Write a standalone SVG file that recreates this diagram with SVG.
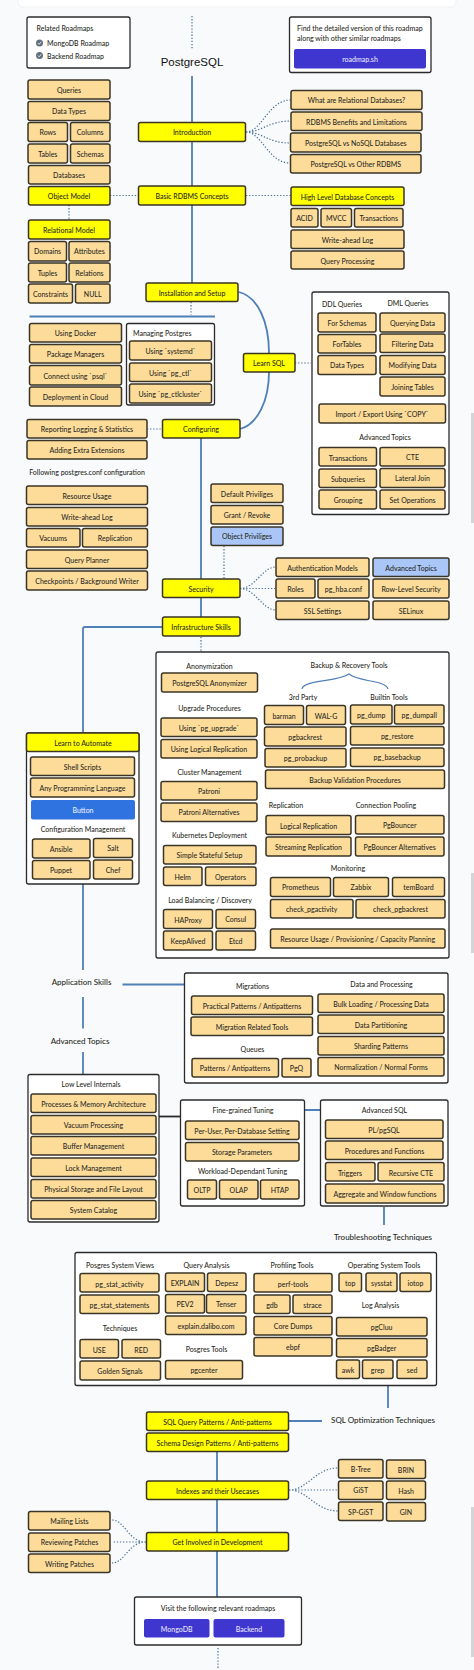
<svg xmlns="http://www.w3.org/2000/svg" width="474" height="1670" viewBox="0 0 474 1670">
<style>
text{font-family:"Lato","Noto Sans",sans-serif;font-size:7px;fill:#2a2a24;text-anchor:middle;dominant-baseline:central;font-weight:500}
.n rect{fill:#fddc9a;stroke:#3a3526;stroke-width:1.5}
.y rect{fill:#ffff00;stroke:#3a3526;stroke-width:1.5}
.b rect{fill:#a9c6f7;stroke:#3a3526;stroke-width:1.5}
.p rect{fill:#3f36cf}
.p text{fill:#e6e6fa}
.box{fill:#fff;stroke:#2b2b2b;stroke-width:1.3}
.l{text-anchor:start}
.big{font-size:8px}
.h{font-family:"Liberation Sans",sans-serif;font-size:11.5px;fill:#111}
#connectors path{fill:none;stroke:#4f7fb8;stroke-width:1.8}
#connectors path.d{stroke:#47709a;stroke-width:1.2;stroke-dasharray:1.3 1.8}
#connectors path.k{stroke:#2b2b2b}
</style>
<rect width="474" height="1670" fill="#f8fafc"/>
<rect x="18" y="-12" width="438" height="19" rx="5" fill="#fff" stroke="#ebedf0" stroke-width="0.8"/>
<rect x="471" y="413" width="3" height="110" fill="#d5d5d8"/>
<rect x="471" y="873" width="3" height="80" fill="#d5d5d8"/>
<rect x="471" y="1507" width="3" height="150" fill="#d5d5d8"/>
<g id="connectors">
<path class="d" d="M192 16V50"/>
<path d="M192 76V283M29.500 316.500H215"/>
<path class="d" d="M246 132C262 132 268 100 291 100M246 132C262 132 268 121 291 121M246 132C262 132 268 143 290 143M246 132C262 132 268 163 290 163M110 195.500H138M246 195.500H291M69 205V220M191 302V315"/>
<path d="M239 292C258 297 269 322 269 353V372C269 400 258 424 240 429"/>
<path class="d" d="M295 363H311M147 429H162M224 546V579M240 588.500C256 588 262 567 276 567M240 588.500H276M240 588.500C256 589 262 610 276 610M201 637V652"/>
<path d="M201 438V579M201 597V617M162 627H85Q83 627 83 629V733M83 884V970M83 997V1028.500M83 1052V1074M122.500 984.500H184M305 1110H320M384 1207V1225M388 1386V1408M289 1421H322M217 1452V1481M217 1500V1532M217 1551V1597"/>
<path class="k" d="M159 1116.500H180"/>
<path class="d" d="M289 1490C308 1490 315 1468 338 1468M289 1490H338M289 1490C308 1490 315 1511 338 1511M146 1542C128 1542 125 1520 112 1520M146 1542H112M146 1542C128 1542 125 1563 112 1563M218 1648V1668"/>
</g>
<g id="related-roadmaps">
<rect class="box" x="27" y="17" width="103" height="51" rx="2"/>
<text class="l" x="36.500" y="27.500">Related Roadmaps</text>
<circle cx="39.500" cy="43" r="3.500" fill="#62707c"/><path d="M37.800 43l1.300 1.300 2.200-2.500" fill="none" stroke="#fff" stroke-width="0.8"/>
<text class="l" x="47" y="43">MongoDB Roadmap</text>
<circle cx="39.500" cy="55.500" r="3.500" fill="#62707c"/><path d="M37.800 55.500l1.300 1.300 2.200-2.500" fill="none" stroke="#fff" stroke-width="0.8"/>
<text class="l" x="47" y="55.500">Backend Roadmap</text>
</g>
<g id="detail-box">
<rect class="box" x="289.500" y="17" width="141.500" height="55.500" rx="2"/>
<text class="l" x="297" y="27.500">Find the detailed version of this roadmap</text>
<text class="l" x="297" y="38">along with other similar roadmaps</text>
</g>
<g id="roadmap-sh" class="p"><rect x="294" y="49" width="132" height="19.500" rx="2"/><text x="360" y="59">roadmap.sh</text></g>
<g id="title"><text class="h" x="192" y="62">PostgreSQL</text></g>
<g id="n1" class="n"><rect x="28" y="80" width="82" height="19" rx="2"/><text x="69" y="90">Queries</text></g>
<g id="n2" class="n"><rect x="28" y="101.500" width="82" height="19" rx="2"/><text x="69" y="111">Data Types</text></g>
<g id="n3" class="n"><rect x="28" y="122.500" width="39.500" height="19" rx="2"/><text x="47.800" y="132">Rows</text></g>
<g id="n4" class="n"><rect x="70.500" y="122.500" width="39.500" height="19" rx="2"/><text x="90.200" y="132">Columns</text></g>
<g id="n5" class="n"><rect x="28" y="144" width="39.500" height="19" rx="2"/><text x="47.800" y="153.500">Tables</text></g>
<g id="n6" class="n"><rect x="70.500" y="144" width="39.500" height="19" rx="2"/><text x="90.200" y="153.500">Schemas</text></g>
<g id="n7" class="n"><rect x="28.500" y="165.500" width="81.500" height="18.500" rx="2"/><text x="69" y="175">Databases</text></g>
<g id="n8" class="y"><rect x="28.500" y="186.500" width="81.500" height="18.500" rx="2"/><text x="69" y="196">Object Model</text></g>
<g id="n9" class="y"><rect x="28.500" y="220" width="81.500" height="19" rx="2"/><text x="69" y="229.500">Relational Model</text></g>
<g id="n10" class="n"><rect x="28.500" y="241.500" width="38" height="19.500" rx="2"/><text x="47.500" y="251">Domains</text></g>
<g id="n11" class="n"><rect x="69" y="241.500" width="41" height="19.500" rx="2"/><text x="89.500" y="251">Attributes</text></g>
<g id="n12" class="n"><rect x="28.500" y="263" width="38" height="19" rx="2"/><text x="47.500" y="272.500">Tuples</text></g>
<g id="n13" class="n"><rect x="69" y="263" width="41" height="19" rx="2"/><text x="89.500" y="272.500">Relations</text></g>
<g id="n14" class="n"><rect x="28.500" y="284" width="44" height="19" rx="2"/><text x="50.500" y="293.500">Constraints</text></g>
<g id="n15" class="n"><rect x="75.500" y="284" width="34.500" height="19" rx="2"/><text x="92.700" y="293.500">NULL</text></g>
<g id="n16" class="y"><rect x="138.500" y="122.500" width="107" height="19" rx="2"/><text x="192" y="132">Introduction</text></g>
<g id="n17" class="y"><rect x="138.500" y="186" width="107" height="19" rx="2"/><text x="192" y="195.500">Basic RDBMS Concepts</text></g>
<g id="n18" class="y"><rect x="146" y="283" width="92" height="18.500" rx="2"/><text x="192" y="292.500">Installation and Setup</text></g>
<g id="n19" class="n"><rect x="291" y="90.500" width="131" height="19" rx="2"/><text x="356.500" y="100">What are Relational Databases?</text></g>
<g id="n20" class="n"><rect x="291" y="112" width="131" height="18.500" rx="2"/><text x="356.500" y="121.500">RDBMS Benefits and Limitations</text></g>
<g id="n21" class="n"><rect x="290.500" y="133" width="130.500" height="19" rx="2"/><text x="355.800" y="142.500">PostgreSQL vs NoSQL Databases</text></g>
<g id="n22" class="n"><rect x="290.500" y="154.500" width="130.500" height="18.500" rx="2"/><text x="355.800" y="164">PostgreSQL vs Other RDBMS</text></g>
<g id="n23" class="y"><rect x="291" y="187" width="113" height="18.500" rx="2"/><text x="347.500" y="196.500">High Level Database Concepts</text></g>
<g id="n24" class="n"><rect x="291" y="208.500" width="27" height="18.500" rx="2"/><text x="304.500" y="218">ACID</text></g>
<g id="n25" class="n"><rect x="321" y="208.500" width="30.500" height="18.500" rx="2"/><text x="336.200" y="218">MVCC</text></g>
<g id="n26" class="n"><rect x="354.500" y="208.500" width="48.500" height="18.500" rx="2"/><text x="378.700" y="218">Transactions</text></g>
<g id="n27" class="n"><rect x="291" y="230" width="113" height="18.500" rx="2"/><text x="347.500" y="239.500">Write-ahead Log</text></g>
<g id="n28" class="n"><rect x="291" y="251" width="113" height="18" rx="2"/><text x="347.500" y="260.500">Query Processing</text></g>
<g id="n29" class="n"><rect x="29.500" y="323.500" width="92" height="18.500" rx="2"/><text x="75.500" y="333">Using Docker</text></g>
<g id="n30" class="n"><rect x="29.500" y="344.500" width="92" height="18.500" rx="2"/><text x="75.500" y="354">Package Managers</text></g>
<g id="n31" class="n"><rect x="29.500" y="365.500" width="92" height="19.500" rx="2"/><text x="75.500" y="375.500">Connect using `psql`</text></g>
<g id="n32" class="n"><rect x="29.500" y="387" width="92" height="19" rx="2"/><text x="75.500" y="396.500">Deployment in Cloud</text></g>
<g id="managing"><rect class="box" x="126.500" y="323.500" width="88" height="81.500" rx="2"/><text class="l" x="133" y="332.500">Managing Postgres</text></g>
<g id="n33" class="n"><rect x="129.500" y="341" width="82" height="19" rx="2"/><text x="170.500" y="350.500">Using `systemd`</text></g>
<g id="n34" class="n"><rect x="129.500" y="363" width="82" height="18.500" rx="2"/><text x="170.500" y="372.500">Using `pg_ctl`</text></g>
<g id="n35" class="n"><rect x="129.500" y="384" width="82" height="19" rx="2"/><text x="170.500" y="393.500">Using `pg_ctlcluster`</text></g>
<g id="n36" class="y"><rect x="243.500" y="353.500" width="51.500" height="18.500" rx="2"/><text x="269" y="363">Learn SQL</text></g>
<g id="sql-box"><rect class="box" x="312" y="292" width="137" height="222.500" rx="2"/>
<text x="342" y="303.500">DDL Queries</text><text x="408" y="303">DML Queries</text><text x="385" y="437">Advanced Topics</text></g>
<g id="n37" class="n"><rect x="318" y="313" width="58" height="19" rx="2"/><text x="347" y="322.500">For Schemas</text></g>
<g id="n38" class="n"><rect x="318" y="334.500" width="58" height="18.500" rx="2"/><text x="347" y="344">ForTables</text></g>
<g id="n39" class="n"><rect x="318" y="355.500" width="58" height="19" rx="2"/><text x="347" y="365">Data Types</text></g>
<g id="n40" class="n"><rect x="380" y="313" width="65" height="19" rx="2"/><text x="412.500" y="322.500">Querying Data</text></g>
<g id="n41" class="n"><rect x="380" y="334" width="65" height="18.500" rx="2"/><text x="412.500" y="343.500">Filtering Data</text></g>
<g id="n42" class="n"><rect x="380" y="355.500" width="65" height="19" rx="2"/><text x="412.500" y="365">Modifying Data</text></g>
<g id="n43" class="n"><rect x="380" y="377" width="65" height="19" rx="2"/><text x="412.500" y="386.500">Joining Tables</text></g>
<g id="n44" class="n"><rect x="319" y="404" width="126.500" height="19" rx="2"/><text x="382" y="413.500">Import / Export Using `COPY`</text></g>
<g id="n45" class="n"><rect x="319" y="447.500" width="57.500" height="18.500" rx="2"/><text x="348" y="457.500">Transactions</text></g>
<g id="n46" class="n"><rect x="319" y="469" width="57.500" height="18.500" rx="2"/><text x="348" y="478.500">Subqueries</text></g>
<g id="n47" class="n"><rect x="319" y="490" width="57.500" height="19" rx="2"/><text x="348" y="499.500">Grouping</text></g>
<g id="n48" class="n"><rect x="380" y="447.500" width="65" height="18.500" rx="2"/><text x="412.500" y="457">CTE</text></g>
<g id="n49" class="n"><rect x="380" y="468.500" width="65" height="19" rx="2"/><text x="412.500" y="478">Lateral Join</text></g>
<g id="n50" class="n"><rect x="380" y="490" width="65" height="19" rx="2"/><text x="412.500" y="499.500">Set Operations</text></g>
<g id="n51" class="y"><rect x="162.500" y="419.500" width="77.500" height="18.500" rx="2"/><text x="201" y="429">Configuring</text></g>
<g id="n52" class="n"><rect x="27" y="419.500" width="120" height="18.500" rx="2"/><text x="87" y="429">Reporting Logging &amp; Statistics</text></g>
<g id="n53" class="n"><rect x="27" y="440.500" width="120" height="18.500" rx="2"/><text x="87" y="450">Adding Extra Extensions</text></g>
<g id="conf-label"><text x="87" y="471.500">Following postgres.conf configuration</text></g>
<g id="n54" class="n"><rect x="26.500" y="486" width="121" height="18.500" rx="2"/><text x="87" y="495.500">Resource Usage</text></g>
<g id="n55" class="n"><rect x="26.500" y="507.500" width="121" height="18.500" rx="2"/><text x="87" y="517">Write-ahead Log</text></g>
<g id="n56" class="n"><rect x="26.500" y="528.500" width="53.500" height="18.500" rx="2"/><text x="53.200" y="538">Vacuums</text></g>
<g id="n57" class="n"><rect x="82.500" y="528.500" width="65" height="18.500" rx="2"/><text x="115" y="538">Replication</text></g>
<g id="n58" class="n"><rect x="26.500" y="550" width="121" height="18.500" rx="2"/><text x="87" y="559.500">Query Planner</text></g>
<g id="n59" class="n"><rect x="26.500" y="571" width="121" height="19" rx="2"/><text x="87" y="580.500">Checkpoints / Background Writer</text></g>
<g id="n60" class="n"><rect x="211" y="484" width="72" height="18.500" rx="2"/><text x="247" y="493.500">Default Priviliges</text></g>
<g id="n61" class="n"><rect x="211" y="505.500" width="72" height="18.500" rx="2"/><text x="247" y="515">Grant / Revoke</text></g>
<g id="n62" class="b"><rect x="211" y="527" width="72" height="18.500" rx="2"/><text x="247" y="536">Object Priviliges</text></g>
<g id="n63" class="y"><rect x="162.500" y="579" width="77.500" height="18.500" rx="2"/><text x="201" y="588.500">Security</text></g>
<g id="n64" class="n"><rect x="276" y="558" width="93" height="18.500" rx="2"/><text x="322.500" y="567.500">Authentication Models</text></g>
<g id="n65" class="b"><rect x="373" y="558" width="76" height="18.500" rx="2"/><text x="411" y="567.500">Advanced Topics</text></g>
<g id="n66" class="n"><rect x="276" y="579" width="39" height="19" rx="2"/><text x="295.500" y="588.500">Roles</text></g>
<g id="n67" class="n"><rect x="318" y="579" width="51" height="19" rx="2"/><text x="343.500" y="588.500">pg_hba.conf</text></g>
<g id="n68" class="n"><rect x="373" y="579" width="76" height="19" rx="2"/><text x="411" y="588.500">Row-Level Security</text></g>
<g id="n69" class="n"><rect x="276" y="601" width="93" height="18.500" rx="2"/><text x="322.500" y="610.500">SSL Settings</text></g>
<g id="n70" class="n"><rect x="373" y="601" width="76" height="18.500" rx="2"/><text x="411" y="610.500">SELinux</text></g>
<g id="n71" class="y"><rect x="162.500" y="617" width="77.500" height="19" rx="2"/><text x="201" y="626.500">Infrastructure Skills</text></g>
<g id="automate-box"><rect class="box" x="26.500" y="733" width="112.500" height="151" rx="2"/><text x="83" y="829">Configuration Management</text></g>
<g id="n72" class="y"><rect x="26.500" y="733" width="112.500" height="18.500" rx="2"/><text x="83" y="742.500">Learn to Automate</text></g>
<g id="n73" class="n"><rect x="30.500" y="757" width="104" height="18.500" rx="2"/><text x="82.500" y="766.500">Shell Scripts</text></g>
<g id="n74" class="n"><rect x="30.500" y="778" width="104" height="19" rx="2"/><text x="82.500" y="788">Any Programming Language</text></g>
<g id="n75"><rect x="31" y="800" width="104" height="19.500" rx="2" fill="#2f73e0"/><text x="83" y="810" style="fill:#e8f0ff">Button</text></g>
<g id="n76" class="n"><rect x="32.500" y="839" width="57.500" height="19" rx="2"/><text x="61" y="849">Ansible</text></g>
<g id="n77" class="n"><rect x="93.500" y="838.500" width="39" height="19" rx="2"/><text x="113" y="848">Salt</text></g>
<g id="n78" class="n"><rect x="32.500" y="860.500" width="57.500" height="18.500" rx="2"/><text x="61" y="870">Puppet</text></g>
<g id="n79" class="n"><rect x="93.500" y="860" width="39" height="19" rx="2"/><text x="113" y="869.500">Chef</text></g>
<g id="infra-box"><rect class="box" x="156" y="652" width="293" height="306" rx="2"/>
<text x="209.500" y="665.500">Anonymization</text><text x="209.500" y="707.500">Upgrade Procedures</text><text x="209.500" y="772">Cluster Management</text><text x="209.500" y="835">Kubernetes Deployment</text><text x="210" y="899.500">Load Balancing / Discovery</text>
<text x="349" y="665">Backup &amp; Recovery Tools</text><text x="303" y="696.500">3rd Party</text><text x="389" y="696.500">Builtin Tools</text><text x="286" y="804.500">Replication</text><text x="386" y="804.500">Connection Pooling</text><text x="348" y="868">Monitoring</text>
<path d="M302 689C303 680 338 682 349 674C358 682 386 680 388 689" fill="none" stroke="#4f7fb8" stroke-width="1.200"/></g>
<g id="n80" class="n"><rect x="161.500" y="673" width="96" height="19" rx="2"/><text x="209.500" y="683">PostgreSQL Anonymizer</text></g>
<g id="n81" class="n"><rect x="161" y="718" width="96" height="18.500" rx="2"/><text x="209" y="727.500">Using `pg_upgrade`</text></g>
<g id="n82" class="n"><rect x="161" y="739.500" width="96" height="18.500" rx="2"/><text x="209" y="749">Using Logical Replication</text></g>
<g id="n83" class="n"><rect x="161" y="781.500" width="96" height="18.500" rx="2"/><text x="209" y="791">Patroni</text></g>
<g id="n84" class="n"><rect x="161" y="803" width="96" height="18.500" rx="2"/><text x="209" y="812">Patroni Alternatives</text></g>
<g id="n85" class="n"><rect x="163.500" y="845.500" width="92.500" height="18.500" rx="2"/><text x="209.500" y="855">Simple Stateful Setup</text></g>
<g id="n86" class="n"><rect x="163.500" y="867" width="38.500" height="18.500" rx="2"/><text x="182.700" y="876.500">Helm</text></g>
<g id="n87" class="n"><rect x="205.500" y="867" width="50.500" height="18.500" rx="2"/><text x="230.500" y="876.500">Operators</text></g>
<g id="n88" class="n"><rect x="163.500" y="909.500" width="49" height="19" rx="2"/><text x="188" y="919.500">HAProxy</text></g>
<g id="n89" class="n"><rect x="216" y="909.500" width="39.500" height="19" rx="2"/><text x="235.700" y="919">Consul</text></g>
<g id="n90" class="n"><rect x="163.500" y="931" width="49" height="19" rx="2"/><text x="188" y="941">KeepAlived</text></g>
<g id="n91" class="n"><rect x="216" y="931" width="39.500" height="19" rx="2"/><text x="235.700" y="941">Etcd</text></g>
<g id="n92" class="n"><rect x="264.500" y="705.500" width="39" height="19" rx="2"/><text x="284" y="715.500">barman</text></g>
<g id="n93" class="n"><rect x="306.500" y="705.500" width="39" height="19" rx="2"/><text x="326" y="715.500">WAL-G</text></g>
<g id="n94" class="n"><rect x="350.500" y="705" width="41.500" height="19" rx="2"/><text x="371.200" y="715">pg_dump</text></g>
<g id="n95" class="n"><rect x="394.500" y="705" width="49.500" height="19" rx="2"/><text x="419.200" y="715">pg_dumpall</text></g>
<g id="n96" class="n"><rect x="264.500" y="727" width="81.500" height="19" rx="2"/><text x="305.200" y="737">pgbackrest</text></g>
<g id="n97" class="n"><rect x="350.500" y="726.500" width="93.500" height="18.500" rx="2"/><text x="397.200" y="736">pg_restore</text></g>
<g id="n98" class="n"><rect x="265" y="748.500" width="81" height="18.500" rx="2"/><text x="305.500" y="758">pg_probackup</text></g>
<g id="n99" class="n"><rect x="350.500" y="748" width="93.500" height="18.500" rx="2"/><text x="397.200" y="757">pg_basebackup</text></g>
<g id="n100" class="n"><rect x="265.500" y="770" width="179" height="18.500" rx="2"/><text x="355" y="779.500">Backup Validation Procedures</text></g>
<g id="n101" class="n"><rect x="266" y="815.500" width="85" height="19" rx="2"/><text x="308.500" y="825.500">Logical Replication</text></g>
<g id="n102" class="n"><rect x="266" y="837" width="85" height="19" rx="2"/><text x="308.500" y="846.500">Streaming Replication</text></g>
<g id="n103" class="n"><rect x="355.500" y="815.500" width="88.500" height="18.500" rx="2"/><text x="399.700" y="825">PgBouncer</text></g>
<g id="n104" class="n"><rect x="355.500" y="837" width="88.500" height="19" rx="2"/><text x="399.700" y="846.500">PgBouncer Alternatives</text></g>
<g id="n105" class="n"><rect x="270.500" y="877.500" width="60" height="19" rx="2"/><text x="300.500" y="887">Prometheus</text></g>
<g id="n106" class="n"><rect x="333.500" y="877.500" width="55" height="19" rx="2"/><text x="361" y="887">Zabbix</text></g>
<g id="n107" class="n"><rect x="392.500" y="877.500" width="52" height="19" rx="2"/><text x="418.500" y="887">temBoard</text></g>
<g id="n108" class="n"><rect x="270.500" y="899.500" width="82.500" height="18.500" rx="2"/><text x="311.700" y="909">check_pgactivity</text></g>
<g id="n109" class="n"><rect x="356" y="899.500" width="89" height="18.500" rx="2"/><text x="400.500" y="909">check_pgbackrest</text></g>
<g id="n110" class="n"><rect x="270.500" y="929" width="174.500" height="19" rx="2"/><text x="357.700" y="939">Resource Usage / Provisioning / Capacity Planning</text></g>
<g id="app-skills"><text class="big" x="81.500" y="982">Application Skills</text></g>
<g id="adv-topics"><text class="big" x="80" y="1040.500">Advanced Topics</text></g>
<g id="app-box"><rect class="box" x="184.500" y="973" width="263.500" height="110" rx="2"/>
<text x="252.500" y="986">Migrations</text><text x="381.500" y="983.500">Data and Processing</text><text x="252.500" y="1048.500">Queues</text></g>
<g id="n111" class="n"><rect x="191.500" y="996" width="121" height="18.500" rx="2"/><text x="252" y="1005.500">Practical Patterns / Antipatterns</text></g>
<g id="n112" class="n"><rect x="191" y="1017" width="121.500" height="18.500" rx="2"/><text x="252" y="1026.500">Migration Related Tools</text></g>
<g id="n113" class="n"><rect x="192" y="1058.500" width="86.500" height="18.500" rx="2"/><text x="235" y="1068">Patterns / Antipatterns</text></g>
<g id="n114" class="n"><rect x="282" y="1058.500" width="29" height="18.500" rx="2"/><text x="296.500" y="1068">PgQ</text></g>
<g id="n115" class="n"><rect x="318" y="994" width="126" height="18.500" rx="2"/><text x="381" y="1003.500">Bulk Loading / Processing Data</text></g>
<g id="n116" class="n"><rect x="318" y="1015" width="126" height="18.500" rx="2"/><text x="381" y="1025">Data Partitioning</text></g>
<g id="n117" class="n"><rect x="318" y="1036.500" width="126" height="18.500" rx="2"/><text x="381" y="1046">Sharding Patterns</text></g>
<g id="n118" class="n"><rect x="318" y="1057.500" width="126" height="18.500" rx="2"/><text x="381" y="1067">Normalization / Normal Forms</text></g>
<g id="low-box"><rect class="box" x="28" y="1074.500" width="131" height="147.500" rx="2"/><text x="91" y="1084">Low Level Internals</text></g>
<g id="n119" class="n"><rect x="31" y="1094" width="125" height="18.500" rx="2"/><text x="93.500" y="1103.500">Processes &amp; Memory Architecture</text></g>
<g id="n120" class="n"><rect x="31" y="1115.500" width="125" height="18.500" rx="2"/><text x="93.500" y="1125">Vacuum Processing</text></g>
<g id="n121" class="n"><rect x="31" y="1136.500" width="125" height="18.500" rx="2"/><text x="93.500" y="1146">Buffer Management</text></g>
<g id="n122" class="n"><rect x="31" y="1158" width="125" height="18.500" rx="2"/><text x="93.500" y="1167.500">Lock Management</text></g>
<g id="n123" class="n"><rect x="31" y="1179.500" width="125" height="18.500" rx="2"/><text x="93.500" y="1189">Physical Storage and File Layout</text></g>
<g id="n124" class="n"><rect x="31" y="1200.500" width="125" height="18.500" rx="2"/><text x="93.500" y="1210">System Catalog</text></g>
<g id="fine-box"><rect class="box" x="180.500" y="1100" width="124" height="106" rx="2"/><text x="243" y="1109.500">Fine-grained Tuning</text><text x="242.500" y="1170.500">Workload-Dependant Tuning</text></g>
<g id="n125" class="n"><rect x="185.500" y="1121" width="113.500" height="18.500" rx="2"/><text x="242" y="1130.500">Per-User, Per-Database Setting</text></g>
<g id="n126" class="n"><rect x="185.500" y="1142.500" width="113.500" height="18.500" rx="2"/><text x="242" y="1152">Storage Parameters</text></g>
<g id="n127" class="n"><rect x="187.500" y="1180" width="29" height="19" rx="2"/><text x="202" y="1189.500">OLTP</text></g>
<g id="n128" class="n"><rect x="219.500" y="1180" width="38.500" height="19" rx="2"/><text x="238.700" y="1189.500">OLAP</text></g>
<g id="n129" class="n"><rect x="260.500" y="1180" width="38.500" height="19" rx="2"/><text x="279.700" y="1189.500">HTAP</text></g>
<g id="adv-sql-box"><rect class="box" x="320.500" y="1100" width="127.500" height="106" rx="2"/><text x="384.500" y="1109.500">Advanced SQL</text></g>
<g id="n130" class="n"><rect x="325.500" y="1120" width="117.500" height="18.500" rx="2"/><text x="384" y="1129.500">PL/pgSQL</text></g>
<g id="n131" class="n"><rect x="325.500" y="1141" width="117.500" height="18.500" rx="2"/><text x="384.500" y="1151">Procedures and Functions</text></g>
<g id="n132" class="n"><rect x="325.500" y="1162.500" width="49.500" height="18.500" rx="2"/><text x="350" y="1172.500">Triggers</text></g>
<g id="n133" class="n"><rect x="378" y="1162.500" width="66" height="18.500" rx="2"/><text x="411" y="1172.500">Recursive CTE</text></g>
<g id="n134" class="n"><rect x="325.500" y="1184" width="118.500" height="19" rx="2"/><text x="385" y="1194">Aggregate and Window functions</text></g>
<g id="troubleshooting"><text class="big" x="383" y="1237">Troubleshooting Techniques</text></g>
<g id="ts-box"><rect class="box" x="75" y="1252.500" width="361.500" height="133" rx="2"/>
<text x="120" y="1265">Posgres System Views</text><text x="206.500" y="1264.500">Query Analysis</text><text x="292" y="1265">Profiling Tools</text><text x="384" y="1264.500">Operating System Tools</text><text x="120" y="1327.500">Techniques</text><text x="206.500" y="1348.500">Posgres Tools</text><text x="380.500" y="1305">Log Analysis</text></g>
<g id="n135" class="n"><rect x="80" y="1273.500" width="79" height="18.500" rx="2"/><text x="119.500" y="1283.500">pg_stat_activity</text></g>
<g id="n136" class="n"><rect x="80" y="1295" width="79" height="18.500" rx="2"/><text x="119.500" y="1304.500">pg_stat_statements</text></g>
<g id="n137" class="n"><rect x="80" y="1339.500" width="38.500" height="18.500" rx="2"/><text x="99.200" y="1349.500">USE</text></g>
<g id="n138" class="n"><rect x="122" y="1339.500" width="38.500" height="18.500" rx="2"/><text x="141.200" y="1349.500">RED</text></g>
<g id="n139" class="n"><rect x="80" y="1361" width="80.500" height="19" rx="2"/><text x="120" y="1370.500">Golden Signals</text></g>
<g id="n140" class="n"><rect x="165.500" y="1273" width="39" height="18.500" rx="2"/><text x="185" y="1282.500">EXPLAIN</text></g>
<g id="n141" class="n"><rect x="207.500" y="1273" width="38.500" height="18.500" rx="2"/><text x="226.700" y="1282.500">Depesz</text></g>
<g id="n142" class="n"><rect x="165.500" y="1294.500" width="39" height="18.500" rx="2"/><text x="185" y="1304">PEV2</text></g>
<g id="n143" class="n"><rect x="206.500" y="1294.500" width="39.500" height="18.500" rx="2"/><text x="226.200" y="1304">Tenser</text></g>
<g id="n144" class="n"><rect x="165.500" y="1316" width="80.500" height="18.500" rx="2"/><text x="206" y="1325.500">explain.dalibo.com</text></g>
<g id="n145" class="n"><rect x="165.500" y="1360.500" width="77" height="18.500" rx="2"/><text x="204" y="1370">pgcenter</text></g>
<g id="n146" class="n"><rect x="254" y="1273.500" width="78" height="18.500" rx="2"/><text x="293" y="1283.500">perf-tools</text></g>
<g id="n147" class="n"><rect x="254" y="1295" width="36" height="18.500" rx="2"/><text x="272" y="1304.500">gdb</text></g>
<g id="n148" class="n"><rect x="293" y="1295" width="39" height="18.500" rx="2"/><text x="312.500" y="1304.500">strace</text></g>
<g id="n149" class="n"><rect x="254" y="1316.500" width="78" height="18.500" rx="2"/><text x="293" y="1326">Core Dumps</text></g>
<g id="n150" class="n"><rect x="254" y="1337.500" width="78" height="18.500" rx="2"/><text x="293" y="1347">ebpf</text></g>
<g id="n151" class="n"><rect x="339" y="1273" width="22.500" height="18.500" rx="2"/><text x="350.200" y="1283">top</text></g>
<g id="n152" class="n"><rect x="366" y="1273" width="31" height="18.500" rx="2"/><text x="381.500" y="1283">sysstat</text></g>
<g id="n153" class="n"><rect x="400" y="1273" width="31" height="18.500" rx="2"/><text x="415.500" y="1283">iotop</text></g>
<g id="n154" class="n"><rect x="336.500" y="1317.500" width="90.500" height="18.500" rx="2"/><text x="381.700" y="1327">pgCluu</text></g>
<g id="n155" class="n"><rect x="336.500" y="1338.500" width="90.500" height="18.500" rx="2"/><text x="381.700" y="1348">pgBadger</text></g>
<g id="n156" class="n"><rect x="336.500" y="1360" width="23" height="18.500" rx="2"/><text x="348" y="1369.500">awk</text></g>
<g id="n157" class="n"><rect x="362.500" y="1360" width="30.500" height="18.500" rx="2"/><text x="377.700" y="1369.500">grep</text></g>
<g id="n158" class="n"><rect x="397" y="1360" width="30" height="18.500" rx="2"/><text x="412" y="1369.500">sed</text></g>
<g id="sql-opt"><text class="big" x="383" y="1420">SQL Optimization Techniques</text></g>
<g id="n159" class="y"><rect x="146.500" y="1412" width="142" height="18.500" rx="2"/><text x="217.500" y="1421.500">SQL Query Patterns / Anti-patterns</text></g>
<g id="n160" class="y"><rect x="146.500" y="1433" width="142" height="18.500" rx="2"/><text x="217.500" y="1442.500">Schema Design Patterns / Anti-patterns</text></g>
<g id="n161" class="y"><rect x="146.500" y="1481" width="142" height="18.500" rx="2"/><text x="217.500" y="1490.500">Indexes and their Usecases</text></g>
<g id="n162" class="y"><rect x="146.500" y="1532.500" width="142" height="18.500" rx="2"/><text x="217.500" y="1542">Get Involved in Development</text></g>
<g id="n163" class="n"><rect x="338.500" y="1459.500" width="44.500" height="18.500" rx="2"/><text x="360.700" y="1469">B-Tree</text></g>
<g id="n164" class="n"><rect x="386.500" y="1460" width="39" height="18.500" rx="2"/><text x="406" y="1469.500">BRIN</text></g>
<g id="n165" class="n"><rect x="338.500" y="1481" width="44.500" height="18.500" rx="2"/><text x="360.700" y="1490">GiST</text></g>
<g id="n166" class="n"><rect x="386.500" y="1481" width="39" height="18.500" rx="2"/><text x="406" y="1490.500">Hash</text></g>
<g id="n167" class="n"><rect x="338.500" y="1502" width="44.500" height="18.500" rx="2"/><text x="360.700" y="1511.500">SP-GiST</text></g>
<g id="n168" class="n"><rect x="386.500" y="1502.500" width="39" height="18.500" rx="2"/><text x="406" y="1512">GIN</text></g>
<g id="n169" class="n"><rect x="28.500" y="1511.500" width="81.500" height="18.500" rx="2"/><text x="69.500" y="1521">Mailing Lists</text></g>
<g id="n170" class="n"><rect x="28.500" y="1533" width="81.500" height="18.500" rx="2"/><text x="69.500" y="1542">Reviewing Patches</text></g>
<g id="n171" class="n"><rect x="28.500" y="1554" width="81.500" height="18.500" rx="2"/><text x="69.500" y="1563.500">Writing Patches</text></g>
<g id="visit-box"><rect class="box" x="134.500" y="1597" width="167" height="48" rx="2"/><text x="218" y="1607.500">Visit the following relevant roadmaps</text></g>
<g id="mongodb" class="p"><rect x="144" y="1619" width="65.500" height="18.500" rx="2"/><text x="176.700" y="1628.500">MongoDB</text></g>
<g id="backend" class="p"><rect x="213.500" y="1619" width="71" height="18.500" rx="2"/><text x="249" y="1628.500">Backend</text></g>
</svg>
